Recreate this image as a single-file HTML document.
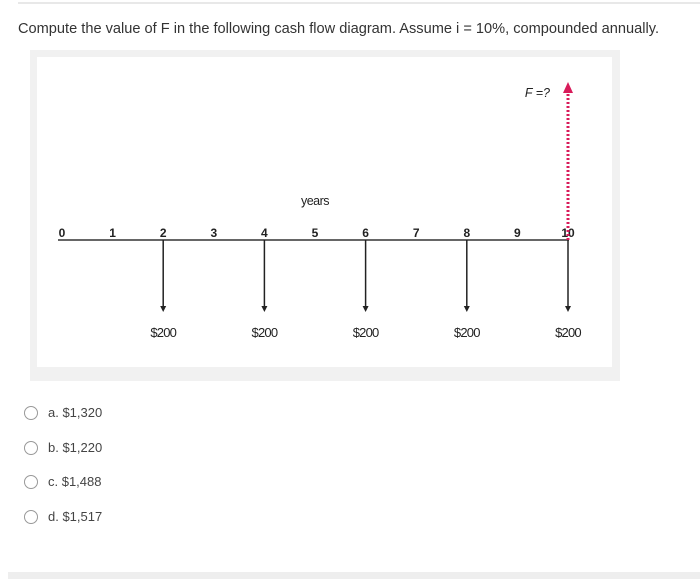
<!DOCTYPE html>
<html><head><meta charset="utf-8"><style>
body{margin:0;width:700px;height:579px;background:#fff;font-family:"Liberation Sans",sans-serif;position:relative;overflow:hidden}
.q{position:absolute;left:18px;top:21px;font-size:14.6px;color:#333}
.opt{position:absolute;left:24px;font-size:13px;color:#444;display:flex;align-items:center}
.opt span.c{width:12px;height:12px;border:1px solid #999;border-radius:50%;margin-right:10px;display:inline-block}
</style></head><body>
<div style="position:absolute;left:18px;top:2px;width:682px;height:2px;background:#e8e8e8"></div>
<div class="q">Compute the value of F in the following cash flow diagram. Assume i = 10%, compounded annually.</div>
<svg style="position:absolute;left:0;top:0" width="700" height="400">
<rect x="30" y="50" width="590" height="331" fill="#f1f1f1"/>
<rect x="37" y="57" width="575" height="310" fill="#fff"/>
<g id="g"></g>
</svg>
<div class="opt" style="top:405px"><span class="c"></span>a. $1,320</div>
<div class="opt" style="top:440px"><span class="c"></span>b. $1,220</div>
<div class="opt" style="top:474px"><span class="c"></span>c. $1,488</div>
<div class="opt" style="top:509px"><span class="c"></span>d. $1,517</div>
<div style="position:absolute;left:8px;top:572px;width:692px;height:7px;background:#eee"></div>
<script>
const years=[0,1,2,3,4,5,6,7,8,9,10];
const flowYears=[2,4,6,8,10];
const flowValues=[200,200,200,200,200];
const futureYear=10;
const NS="http://www.w3.org/2000/svg";
const g=document.getElementById('g');
const x=t=>62+t*50.6;
const axisY=240;
const arrowLen=v=>v*0.35;
function el(tag,attrs,text){const e=document.createElementNS(NS,tag);for(const k in attrs)e.setAttribute(k,attrs[k]);if(text!==undefined)e.textContent=text;g.appendChild(e);return e;}
const ax=el('line',{x1:x(0)-4,x2:x(10)+1,y1:axisY,y2:axisY,stroke:'#333','stroke-width':1.5});


years.forEach(t=>{const e=el('text',{x:x(t),y:axisY-3,'text-anchor':'middle','font-size':12,'font-weight':'bold',fill:'#222'},String(t));

});
const yl=el('text',{x:x(5),y:205,'text-anchor':'middle','font-size':12.5,fill:'#222','letter-spacing':'-0.5'},'years');


flowYears.forEach((t,i)=>{const y2=axisY+arrowLen(flowValues[i]);
const l=el('line',{x1:x(t),x2:x(t),y1:axisY,y2:y2,stroke:'#222','stroke-width':1.5});


el('polygon',{points:`${x(t)-3},${y2-4} ${x(t)+3},${y2-4} ${x(t)},${y2+2}`,fill:'#222'});
const tx=el('text',{x:x(t),y:y2+27,'text-anchor':'middle','font-size':13,fill:'#222','letter-spacing':'-0.8'},'$'+flowValues[i]);

});
const fx=x(futureYear);
const fl=el('line',{x1:fx,x2:fx,y1:axisY,y2:92,stroke:'#d81b5a','stroke-width':3,'stroke-dasharray':'2 2'});


el('polygon',{points:`${fx-5},${93} ${fx+5},${93} ${fx},${82}`,fill:'#d81b5a'});
const ft=el('text',{x:fx-18,y:97,'text-anchor':'end','font-size':12.5,'font-style':'italic',fill:'#222'},'F =?');


</script>
</body></html>
